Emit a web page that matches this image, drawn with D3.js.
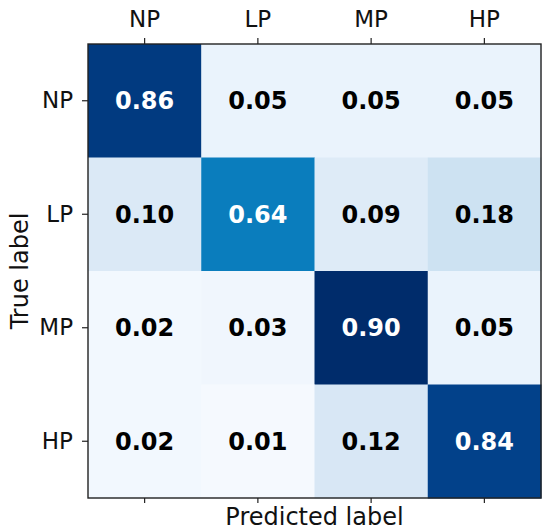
<!DOCTYPE html>
<html>
<head>
<meta charset="utf-8">
<script src="https://cdn.jsdelivr.net/npm/d3@7"></script>
<style>
  body { margin: 0; background: #fff; }
  text { font-family: "DejaVu Sans", sans-serif; }
</style>
</head>
<body>
<div id="chart"></div>
<script>
//Data
var predictedLabels = ["NP", "LP", "MP", "HP"];
var trueLabels = ["NP", "LP", "MP", "HP"];
var matrixValues = [
    [0.86, 0.05, 0.05, 0.05],
    [0.10, 0.64, 0.09, 0.18],
    [0.02, 0.03, 0.90, 0.05],
    [0.02, 0.01, 0.12, 0.84]
];
//Colour stops (Blues-like)
var colorStops = [0.01, 0.05, 0.10, 0.18, 0.64, 0.84, 0.90];
var colorValues = ["#f5f9fe", "#eaf3fc", "#dbe9f6", "#cde2f2", "#0a7dbd", "#02418a", "#002c6b"];

//Define SVG area
var svgWidth = 550;
var svgHeight = 532;

var chartMargin = { top: 44, right: 9, bottom: 34, left: 88 };
var chartWidth = svgWidth - chartMargin.left - chartMargin.right;
var chartHeight = svgHeight - chartMargin.top - chartMargin.bottom;

var svg = d3.select("#chart")
    .append("svg")
    .attr("width", svgWidth)
    .attr("height", svgHeight);

var chartGroup = svg.append("g")
    .attr("transform", `translate(${chartMargin.left}, ${chartMargin.top})`);

//Scales
var xScale = d3.scaleBand()
    .domain(predictedLabels)
    .range([0, chartWidth]);

var yScale = d3.scaleBand()
    .domain(trueLabels)
    .range([0, chartHeight]);

var colorScale = d3.scaleLinear()
    .domain(colorStops)
    .range(colorValues)
    .clamp(true);

//Flatten the matrix into cells
var cells = [];
matrixValues.forEach(function(row, i) {
    row.forEach(function(v, j) {
        cells.push({ t: trueLabels[i], p: predictedLabels[j], value: v });
    });
});

//Cells
chartGroup.selectAll("rect.cell")
    .data(cells)
    .enter()
    .append("rect")
    .attr("class", "cell")
    .attr("x", d => xScale(d.p))
    .attr("y", d => yScale(d.t))
    .attr("width", xScale.bandwidth() + 0.5)
    .attr("height", yScale.bandwidth() + 0.5)
    .attr("fill", d => colorScale(d.value));

//Cell values
chartGroup.selectAll("text.val")
    .data(cells)
    .enter()
    .append("text")
    .attr("class", "val")
    .attr("x", d => xScale(d.p) + xScale.bandwidth() / 2)
    .attr("y", d => yScale(d.t) + yScale.bandwidth() / 2)
    .attr("dy", "0.36em")
    .attr("text-anchor", "middle")
    .attr("font-size", "24px")
    .attr("font-weight", "bold")
    .attr("fill", d => d.value > 0.45 ? "#ffffff" : "#000000")
    .text(d => d.value.toFixed(2));

//Axes
var topAxis = d3.axisTop(xScale).tickSize(6).tickPadding(11);
var bottomAxis = d3.axisBottom(xScale).tickSize(5).tickFormat("");
var leftAxis = d3.axisLeft(yScale).tickSize(6).tickPadding(9);

var xAxisTop = chartGroup.append("g").call(topAxis);
var xAxisBottom = chartGroup.append("g")
    .attr("transform", `translate(0, ${chartHeight})`)
    .call(bottomAxis);
var yAxis = chartGroup.append("g").call(leftAxis);

[xAxisTop, xAxisBottom, yAxis].forEach(function(ax) {
    ax.select(".domain").remove();
    ax.selectAll("line").attr("stroke", "#222").attr("stroke-width", 1.2);
    ax.selectAll("text")
        .attr("font-family", "DejaVu Sans, sans-serif")
        .attr("font-size", "23px")
        .attr("fill", "#111");
});

//Frame
chartGroup.append("rect")
    .attr("x", 0)
    .attr("y", 0)
    .attr("width", chartWidth)
    .attr("height", chartHeight)
    .attr("fill", "none")
    .attr("stroke", "#222")
    .attr("stroke-width", 1.4);

//Axis titles
svg.append("text")
    .attr("x", chartMargin.left + chartWidth / 2)
    .attr("y", 525)
    .attr("text-anchor", "middle")
    .attr("font-size", "24px")
    .attr("fill", "#111")
    .text("Predicted label");

svg.append("text")
    .attr("transform", `translate(28, ${chartMargin.top + chartHeight / 2}) rotate(-90)`)
    .attr("text-anchor", "middle")
    .attr("font-size", "24px")
    .attr("fill", "#111")
    .text("True label");
</script>
</body>
</html>
